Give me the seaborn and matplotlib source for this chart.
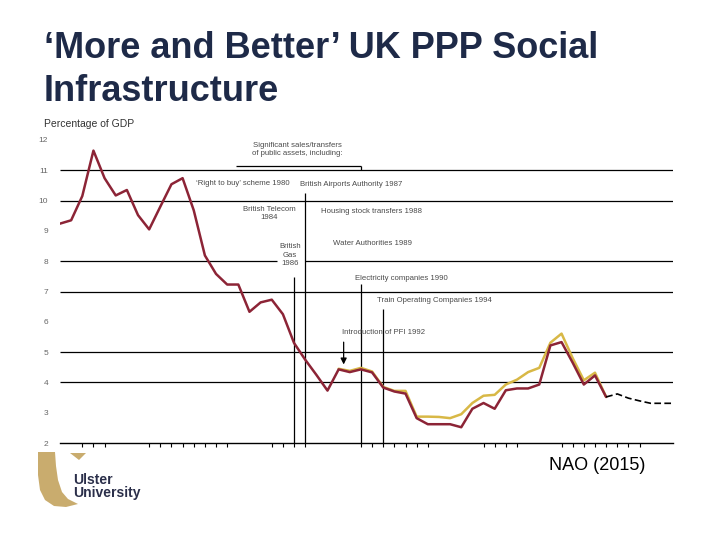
import matplotlib
matplotlib.use("Agg")
import matplotlib.pyplot as plt
import seaborn as sns
from matplotlib.patches import Polygon

# Public sector investment, % of GDP
years = list(range(1964, 2014))
investment = [9.24, 9.35, 10.15, 11.65, 10.74, 10.17, 10.35, 9.52, 9.05, 9.8,
              10.54, 10.74, 9.68, 8.19, 7.58, 7.23, 7.23, 6.33, 6.64, 6.73,
              6.25, 5.3, 4.75, 4.25, 3.73, 4.43, 4.34, 4.43, 4.33, 3.83,
              3.70, 3.63, 2.82, 2.62, 2.62, 2.62, 2.52, 3.13, 3.32, 3.13,
              3.74, 3.8, 3.8, 3.93, 5.22, 5.33, 4.65, 3.93, 4.23, 3.52]

# Including PFI/PPP investment
ppp_years = list(range(1989, 2014))
with_ppp = [4.45, 4.38, 4.48, 4.36, 3.85, 3.72, 3.72, 2.87, 2.87, 2.86,
            2.82, 2.95, 3.32, 3.56, 3.59, 3.93, 4.09, 4.34, 4.48, 5.31,
            5.61, 4.8, 4.07, 4.32, 3.52]

# Forecast
forecast_years = list(range(2013, 2020))
forecast = [3.52, 3.62, 3.48, 3.39, 3.31, 3.31, 3.31]

tick_years = [1966, 1967, 1968, 1972, 1973, 1974, 1975, 1976, 1977, 1978, 1979,
              1983, 1984, 1985, 1986, 1991, 1992, 1993, 1994, 1995, 1996, 1997,
              2002, 2003, 2004, 2005, 2009, 2010, 2011, 2012, 2013, 2014, 2015, 2016]

sns.set_style("white")
plt.rcParams['font.family'] = ['Liberation Sans', 'DejaVu Sans']

navy = "#1E2A48"
maroon = "#8C2436"
gold = "#D8B846"
note = "#4a4a4a"

fig = plt.figure(figsize=(7.2, 5.4), dpi=100)
ax = fig.add_axes([60 / 720, 1 - 443 / 540, 613 / 720, 303 / 540])

# horizontal rules
for v in [11, 10, 7, 5, 4]:
    ax.hlines(v, 1964, 2019, color="black", lw=0.9, zorder=1)
ax.hlines(8, 1964, 1983.5, color="black", lw=0.9, zorder=1)
ax.hlines(8, 1986, 2019, color="black", lw=0.9, zorder=1)

# event markers
ax.vlines(1985, 2, 7.48, color="black", lw=0.9)
ax.vlines(1986, 2, 10.24, color="black", lw=0.9)
ax.vlines(1991, 2, 7.25, color="black", lw=0.9)
ax.vlines(1993, 2, 6.42, color="black", lw=0.9)
ax.hlines(11.14, 1979.8, 1991, color="black", lw=0.9)
ax.vlines(1991, 11.0, 11.14, color="black", lw=0.9)
ax.annotate("", xy=(1989.45, 4.5), xytext=(1989.45, 5.42),
            arrowprops=dict(arrowstyle="-|>", color="black", lw=0.9, mutation_scale=9))

sns.lineplot(x=ppp_years, y=with_ppp, color=gold, lw=1.8, ax=ax, zorder=3)
sns.lineplot(x=years, y=investment, color=maroon, lw=1.8, ax=ax, zorder=4)
sns.lineplot(x=forecast_years, y=forecast, color="black", lw=1.2, ax=ax,
             linestyle=(0, (4, 2)), zorder=4)

fs = 5.6
ax.text(1985.3, 11.7, "Significant sales/transfers\nof public assets, including:",
        ha="center", va="center", fontsize=fs, color=note, linespacing=1.2)
ax.text(1984.6, 10.55, "‘Right to buy’ scheme 1980", ha="right", va="center", fontsize=fs, color=note)
ax.text(1985.5, 10.52, "British Airports Authority 1987", ha="left", va="center", fontsize=fs, color=note)
ax.text(1982.8, 9.57, "British Telecom\n1984", ha="center", va="center", fontsize=fs, color=note, linespacing=1.3)
ax.text(1987.4, 9.65, "Housing stock transfers 1988", ha="left", va="center", fontsize=fs, color=note)
ax.text(1984.65, 8.2, "British\nGas\n1986", ha="center", va="center", fontsize=fs, color=note, linespacing=1.3)
ax.text(1988.46, 8.58, "Water Authorities 1989", ha="left", va="center", fontsize=fs, color=note)
ax.text(1990.5, 7.44, "Electricity companies 1990", ha="left", va="center", fontsize=fs, color=note)
ax.text(1992.4, 6.69, "Train Operating Companies 1994", ha="left", va="center", fontsize=fs, color=note)
ax.text(1989.27, 5.64, "Introduction of PFI 1992", ha="left", va="center", fontsize=fs, color=note)

ax.set_xlim(1964, 2019)
ax.set_ylim(2, 12)
ax.set_yticks(range(2, 13))
ax.set_xticks(tick_years)
ax.set_xticklabels([])
ax.set_xlabel("")
ax.set_ylabel("")
ax.tick_params(axis="y", left=False, labelsize=6, labelcolor="#666666", pad=5)
ax.tick_params(axis="x", bottom=True, direction="out", length=3, width=0.8, color="black")
for side in ["top", "left", "right"]:
    ax.spines[side].set_visible(False)
ax.spines["bottom"].set_color("black")
ax.spines["bottom"].set_linewidth(1.0)
ax.grid(False)

fig.text(44 / 720, 1 - 124 / 540, "Percentage of GDP", fontsize=7.5, color="#333333", va="center")

# title
fig.text(44 / 720, 1 - 58 / 540, "‘More and Better’ UK PPP Social", fontsize=26,
         fontweight="bold", color=navy, va="baseline")
fig.text(44 / 720, 1 - 101 / 540, "Infrastructure", fontsize=26,
         fontweight="bold", color=navy, va="baseline")

fig.text(597 / 720, 1 - 465 / 540, "NAO (2015)", fontsize=13, color="black", ha="center", va="center")

# Ulster University logo
swoosh = [(38, 452), (55, 452), (56, 466), (58, 480), (62, 492), (68, 499), (78, 504),
          (66, 507), (54, 506), (45, 500), (40, 490), (38, 475)]
fig.patches.append(Polygon([(x / 720, 1 - y / 540) for x, y in swoosh], closed=True,
                           transform=fig.transFigure, facecolor="#C9AC6E", edgecolor="none"))
vmark = [(70, 453), (86, 453), (79, 460)]
fig.patches.append(Polygon([(x / 720, 1 - y / 540) for x, y in vmark], closed=True,
                           transform=fig.transFigure, facecolor="#C9AC6E", edgecolor="none"))
fig.text(73 / 720, 1 - 497 / 540, "Ulster\nUniversity", fontsize=10, fontweight="bold",
         color="#2B2F4A", va="baseline", linespacing=0.95)

fig.savefig("out.png", dpi=100)
